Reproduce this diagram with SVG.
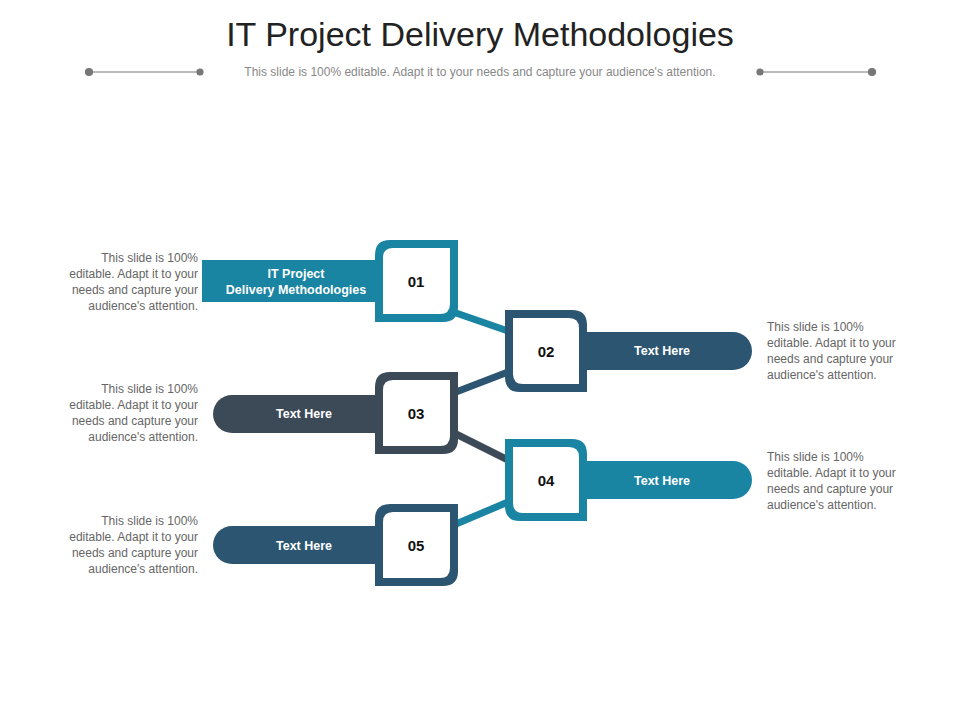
<svg xmlns="http://www.w3.org/2000/svg" width="960" height="720" viewBox="0 0 960 720">
<style>
.d{font-family:"Liberation Sans",Arial,sans-serif;font-size:12px;fill:#666}
.b{font-family:"Liberation Sans",Arial,sans-serif;font-size:12.5px;font-weight:bold;fill:#fff;text-anchor:middle}
.n{font-family:"Liberation Sans",Arial,sans-serif;font-size:15px;font-weight:bold;fill:#111;text-anchor:middle}
.c{stroke-width:7;fill:none}
</style>
<rect width="960" height="720" fill="#fff"/>
<text x="480" y="46" text-anchor="middle" font-family="Liberation Sans,Arial,sans-serif" font-size="34" fill="#222">IT Project Delivery Methodologies</text>
<g stroke="#777" stroke-width="1.2" fill="#777">
<line x1="89" y1="72" x2="200" y2="72"/><line x1="760" y1="72" x2="872" y2="72"/>
<circle cx="89" cy="72" r="3.5"/><circle cx="200" cy="72" r="3"/><circle cx="760" cy="72" r="3"/><circle cx="872" cy="72" r="3.5"/>
</g>
<text x="480" y="76" text-anchor="middle" class="d" fill="#888" style="fill:#888">This slide is 100% editable. Adapt it to your needs and capture your audience's attention.</text>
<g id="connectors">
<line class="c" stroke="#1a84a3" x1="456" y1="313" x2="508" y2="331"/>
<line class="c" stroke="#2b5571" x1="456" y1="392" x2="508" y2="372"/>
<line class="c" stroke="#3c4957" x1="456" y1="434" x2="508" y2="460"/>
<line class="c" stroke="#1a84a3" x1="456" y1="524" x2="508" y2="502"/>
</g>
<g id="n1">
<rect x="202" y="260" width="180" height="42" fill="#1a84a3"/>
<path d="M390 240H458V307Q458 322 443 322H375V255Q375 240 390 240Z" fill="#1a84a3"/>
<path d="M393 248H450V304Q450 314 440 314H383V258Q383 248 393 248Z" fill="#fff"/>
<text class="b" x="296" y="278">IT Project</text>
<text class="b" x="296" y="294">Delivery Methodologies</text>
<text class="n" x="416" y="287">01</text>
<g class="d" text-anchor="end"><text x="198" y="262">This slide is 100%</text><text x="198" y="278">editable. Adapt it to your</text><text x="198" y="294">needs and capture your</text><text x="198" y="310">audience's attention.</text></g>
</g>
<g id="n2">
<path d="M580 332H733A19 19 0 0 1 733 370H580Z" fill="#2b5571"/>
<path d="M505 310H572Q587 310 587 325V392H520Q505 392 505 377Z" fill="#2b5571"/>
<path d="M513 318H569Q579 318 579 328V384H523Q513 384 513 374Z" fill="#fff"/>
<text class="b" x="662" y="355">Text Here</text>
<text class="n" x="546" y="357">02</text>
<g class="d"><text x="767" y="331">This slide is 100%</text><text x="767" y="347">editable. Adapt it to your</text><text x="767" y="363">needs and capture your</text><text x="767" y="379">audience's attention.</text></g>
</g>
<g id="n3">
<path d="M232 395H382V433H232A19 19 0 0 1 232 395Z" fill="#3c4957"/>
<path d="M390 372H458V439Q458 454 443 454H375V387Q375 372 390 372Z" fill="#3c4957"/>
<path d="M393 380H450V436Q450 446 440 446H383V390Q383 380 393 380Z" fill="#fff"/>
<text class="b" x="304" y="418">Text Here</text>
<text class="n" x="416" y="419">03</text>
<g class="d" text-anchor="end"><text x="198" y="393">This slide is 100%</text><text x="198" y="409">editable. Adapt it to your</text><text x="198" y="425">needs and capture your</text><text x="198" y="441">audience's attention.</text></g>
</g>
<g id="n4">
<path d="M580 461H733A19 19 0 0 1 733 499H580Z" fill="#1a84a3"/>
<path d="M505 439H572Q587 439 587 454V521H520Q505 521 505 506Z" fill="#1a84a3"/>
<path d="M513 447H569Q579 447 579 457V513H523Q513 513 513 503Z" fill="#fff"/>
<text class="b" x="662" y="485">Text Here</text>
<text class="n" x="546" y="486">04</text>
<g class="d"><text x="767" y="461">This slide is 100%</text><text x="767" y="477">editable. Adapt it to your</text><text x="767" y="493">needs and capture your</text><text x="767" y="509">audience's attention.</text></g>
</g>
<g id="n5">
<path d="M232 526H382V564H232A19 19 0 0 1 232 526Z" fill="#2b5571"/>
<path d="M390 504H458V571Q458 586 443 586H375V519Q375 504 390 504Z" fill="#2b5571"/>
<path d="M393 512H450V568Q450 578 440 578H383V522Q383 512 393 512Z" fill="#fff"/>
<text class="b" x="304" y="550">Text Here</text>
<text class="n" x="416" y="551">05</text>
<g class="d" text-anchor="end"><text x="198" y="525">This slide is 100%</text><text x="198" y="541">editable. Adapt it to your</text><text x="198" y="557">needs and capture your</text><text x="198" y="573">audience's attention.</text></g>
</g>
</svg>
